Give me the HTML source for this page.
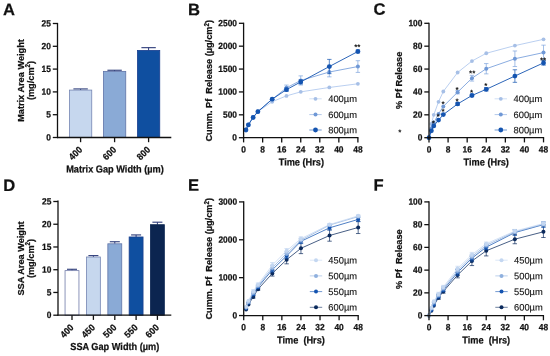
<!DOCTYPE html>
<html><head><meta charset="utf-8"><title>Figure</title>
<style>
html,body{margin:0;padding:0;background:#fff;}
svg{display:block;font-family:"Liberation Sans", Arial, sans-serif;}
text[font-weight=bold]{stroke:#111;stroke-width:0.22px;}
</style></head><body>
<svg width="550" height="356" viewBox="0 0 550 356">
<rect width="550" height="356" fill="#fff"/>
<text transform="translate(2.90,15.20) rotate(0.03) scale(1,1.0)" font-size="16.6" font-weight="bold" text-anchor="start" fill="#111" stroke="#111" stroke-width="0.3">A</text>
<text transform="translate(188.00,15.30) rotate(0.03) scale(1,1.0)" font-size="16.6" font-weight="bold" text-anchor="start" fill="#111" stroke="#111" stroke-width="0.3">B</text>
<text transform="translate(373.50,14.80) rotate(0.03) scale(1,1.0)" font-size="16.6" font-weight="bold" text-anchor="start" fill="#111" stroke="#111" stroke-width="0.3">C</text>
<text transform="translate(3.30,191.00) rotate(0.03) scale(1,1.0)" font-size="16.6" font-weight="bold" text-anchor="start" fill="#111" stroke="#111" stroke-width="0.3">D</text>
<text transform="translate(188.00,190.80) rotate(0.03) scale(1,1.0)" font-size="16.6" font-weight="bold" text-anchor="start" fill="#111" stroke="#111" stroke-width="0.3">E</text>
<text transform="translate(373.50,190.80) rotate(0.03) scale(1,1.0)" font-size="16.6" font-weight="bold" text-anchor="start" fill="#111" stroke="#111" stroke-width="0.3">F</text>
<line x1="80.60" y1="90.08" x2="80.60" y2="88.94" stroke="#2b3a78" stroke-width="1.0" />
<line x1="73.40" y1="88.94" x2="87.80" y2="88.94" stroke="#2b3a78" stroke-width="1.1" />
<rect x="69.45" y="90.08" width="22.30" height="47.42" fill="#c6d7ee" stroke="#7585b2" stroke-width="0.8"/>
<line x1="114.60" y1="71.38" x2="114.60" y2="70.24" stroke="#2b3a78" stroke-width="1.0" />
<line x1="107.40" y1="70.24" x2="121.80" y2="70.24" stroke="#2b3a78" stroke-width="1.1" />
<rect x="103.45" y="71.38" width="22.30" height="66.12" fill="#8aaad6" stroke="#6074a8" stroke-width="0.8"/>
<line x1="148.60" y1="50.40" x2="148.60" y2="47.67" stroke="#2b3a78" stroke-width="1.0" />
<line x1="141.40" y1="47.67" x2="155.80" y2="47.67" stroke="#2b3a78" stroke-width="1.1" />
<rect x="137.45" y="50.40" width="22.30" height="87.10" fill="#0f4fa0" stroke="#1a3f8f" stroke-width="0.8"/>
<line x1="57.50" y1="138.10" x2="57.50" y2="22.90" stroke="#111" stroke-width="1.3" />
<line x1="52.80" y1="137.50" x2="57.50" y2="137.50" stroke="#111" stroke-width="1.3" />
<text transform="translate(50.90,140.42) rotate(0.03) scale(1,1.09)" font-size="8.4" font-weight="bold" text-anchor="end" fill="#111" >0</text>
<line x1="52.80" y1="114.70" x2="57.50" y2="114.70" stroke="#111" stroke-width="1.3" />
<text transform="translate(50.90,117.62) rotate(0.03) scale(1,1.09)" font-size="8.4" font-weight="bold" text-anchor="end" fill="#111" >5</text>
<line x1="52.80" y1="91.90" x2="57.50" y2="91.90" stroke="#111" stroke-width="1.3" />
<text transform="translate(50.90,94.82) rotate(0.03) scale(1,1.09)" font-size="8.4" font-weight="bold" text-anchor="end" fill="#111" >10</text>
<line x1="52.80" y1="69.10" x2="57.50" y2="69.10" stroke="#111" stroke-width="1.3" />
<text transform="translate(50.90,72.02) rotate(0.03) scale(1,1.09)" font-size="8.4" font-weight="bold" text-anchor="end" fill="#111" >15</text>
<line x1="52.80" y1="46.30" x2="57.50" y2="46.30" stroke="#111" stroke-width="1.3" />
<text transform="translate(50.90,49.22) rotate(0.03) scale(1,1.09)" font-size="8.4" font-weight="bold" text-anchor="end" fill="#111" >20</text>
<line x1="52.80" y1="23.50" x2="57.50" y2="23.50" stroke="#111" stroke-width="1.3" />
<text transform="translate(50.90,26.42) rotate(0.03) scale(1,1.09)" font-size="8.4" font-weight="bold" text-anchor="end" fill="#111" >25</text>
<line x1="56.90" y1="137.50" x2="171.30" y2="137.50" stroke="#111" stroke-width="1.3" />
<line x1="80.60" y1="137.50" x2="80.60" y2="142.20" stroke="#111" stroke-width="1.3" />
<line x1="114.60" y1="137.50" x2="114.60" y2="142.20" stroke="#111" stroke-width="1.3" />
<line x1="148.60" y1="137.50" x2="148.60" y2="142.20" stroke="#111" stroke-width="1.3" />
<text transform="translate(82.90,150.40) rotate(-45) scale(1,1.06)" font-size="8.8" font-weight="bold" text-anchor="end" fill="#111">400</text>
<text transform="translate(116.90,150.40) rotate(-45) scale(1,1.06)" font-size="8.8" font-weight="bold" text-anchor="end" fill="#111">600</text>
<text transform="translate(150.90,150.40) rotate(-45) scale(1,1.06)" font-size="8.8" font-weight="bold" text-anchor="end" fill="#111">800</text>
<text transform="translate(115.00,172.60) rotate(0.03) scale(1,1.1)" font-size="9.2" font-weight="bold" text-anchor="middle" fill="#111" >Matrix Gap Width (µm)</text>
<text transform="translate(23.80,80.50) rotate(-90) scale(1,1.08)" font-size="9.2" font-weight="bold" text-anchor="middle" fill="#111">Matrix Area Weight</text>
<text transform="translate(33.50,80.50) rotate(-90) scale(1,1.08)" font-size="9.2" font-weight="bold" text-anchor="middle" fill="#111">(mg/cm<tspan dy="-3.4" font-size="6.3">2</tspan><tspan dy="3.4">)</tspan></text>
<line x1="72.00" y1="270.63" x2="72.00" y2="269.27" stroke="#2b3a78" stroke-width="1.0" />
<line x1="67.00" y1="269.27" x2="77.00" y2="269.27" stroke="#2b3a78" stroke-width="1.1" />
<rect x="65.05" y="270.63" width="13.90" height="44.57" fill="#ffffff" stroke="#6f7aa8" stroke-width="0.8"/>
<line x1="93.40" y1="256.99" x2="93.40" y2="255.62" stroke="#2b3a78" stroke-width="1.0" />
<line x1="88.40" y1="255.62" x2="98.40" y2="255.62" stroke="#2b3a78" stroke-width="1.1" />
<rect x="86.45" y="256.99" width="13.90" height="58.21" fill="#c6d7ee" stroke="#7585b2" stroke-width="0.8"/>
<line x1="114.80" y1="243.80" x2="114.80" y2="241.75" stroke="#2b3a78" stroke-width="1.0" />
<line x1="109.80" y1="241.75" x2="119.80" y2="241.75" stroke="#2b3a78" stroke-width="1.1" />
<rect x="107.85" y="243.80" width="13.90" height="71.40" fill="#8aaad6" stroke="#6074a8" stroke-width="0.8"/>
<line x1="136.10" y1="236.97" x2="136.10" y2="234.93" stroke="#2b3a78" stroke-width="1.0" />
<line x1="131.10" y1="234.93" x2="141.10" y2="234.93" stroke="#2b3a78" stroke-width="1.1" />
<rect x="129.15" y="236.97" width="13.90" height="78.23" fill="#0f4fa0" stroke="#1a3f8f" stroke-width="0.8"/>
<line x1="157.40" y1="224.69" x2="157.40" y2="222.19" stroke="#2b3a78" stroke-width="1.0" />
<line x1="152.40" y1="222.19" x2="162.40" y2="222.19" stroke="#2b3a78" stroke-width="1.1" />
<rect x="150.45" y="224.69" width="13.90" height="90.51" fill="#0b2550" stroke="#0b2550" stroke-width="0.8"/>
<line x1="58.00" y1="315.80" x2="58.00" y2="200.60" stroke="#111" stroke-width="1.3" />
<line x1="53.30" y1="315.20" x2="58.00" y2="315.20" stroke="#111" stroke-width="1.3" />
<text transform="translate(51.40,318.12) rotate(0.03) scale(1,1.09)" font-size="8.4" font-weight="bold" text-anchor="end" fill="#111" >0</text>
<line x1="53.30" y1="292.46" x2="58.00" y2="292.46" stroke="#111" stroke-width="1.3" />
<text transform="translate(51.40,295.38) rotate(0.03) scale(1,1.09)" font-size="8.4" font-weight="bold" text-anchor="end" fill="#111" >5</text>
<line x1="53.30" y1="269.72" x2="58.00" y2="269.72" stroke="#111" stroke-width="1.3" />
<text transform="translate(51.40,272.64) rotate(0.03) scale(1,1.09)" font-size="8.4" font-weight="bold" text-anchor="end" fill="#111" >10</text>
<line x1="53.30" y1="246.98" x2="58.00" y2="246.98" stroke="#111" stroke-width="1.3" />
<text transform="translate(51.40,249.90) rotate(0.03) scale(1,1.09)" font-size="8.4" font-weight="bold" text-anchor="end" fill="#111" >15</text>
<line x1="53.30" y1="224.24" x2="58.00" y2="224.24" stroke="#111" stroke-width="1.3" />
<text transform="translate(51.40,227.16) rotate(0.03) scale(1,1.09)" font-size="8.4" font-weight="bold" text-anchor="end" fill="#111" >20</text>
<line x1="53.30" y1="201.50" x2="58.00" y2="201.50" stroke="#111" stroke-width="1.3" />
<text transform="translate(51.40,204.42) rotate(0.03) scale(1,1.09)" font-size="8.4" font-weight="bold" text-anchor="end" fill="#111" >25</text>
<line x1="57.40" y1="315.20" x2="171.30" y2="315.20" stroke="#111" stroke-width="1.3" />
<line x1="72.00" y1="315.20" x2="72.00" y2="319.90" stroke="#111" stroke-width="1.3" />
<line x1="93.40" y1="315.20" x2="93.40" y2="319.90" stroke="#111" stroke-width="1.3" />
<line x1="114.80" y1="315.20" x2="114.80" y2="319.90" stroke="#111" stroke-width="1.3" />
<line x1="136.10" y1="315.20" x2="136.10" y2="319.90" stroke="#111" stroke-width="1.3" />
<line x1="157.40" y1="315.20" x2="157.40" y2="319.90" stroke="#111" stroke-width="1.3" />
<text transform="translate(74.30,328.10) rotate(-45) scale(1,1.06)" font-size="8.8" font-weight="bold" text-anchor="end" fill="#111">400</text>
<text transform="translate(95.70,328.10) rotate(-45) scale(1,1.06)" font-size="8.8" font-weight="bold" text-anchor="end" fill="#111">450</text>
<text transform="translate(117.10,328.10) rotate(-45) scale(1,1.06)" font-size="8.8" font-weight="bold" text-anchor="end" fill="#111">500</text>
<text transform="translate(138.40,328.10) rotate(-45) scale(1,1.06)" font-size="8.8" font-weight="bold" text-anchor="end" fill="#111">550</text>
<text transform="translate(159.70,328.10) rotate(-45) scale(1,1.06)" font-size="8.8" font-weight="bold" text-anchor="end" fill="#111">600</text>
<text transform="translate(114.80,350.10) rotate(0.03) scale(1,1.1)" font-size="9.2" font-weight="bold" text-anchor="middle" fill="#111" >SSA Gap Width (µm)</text>
<text transform="translate(23.80,258.50) rotate(-90) scale(1,1.08)" font-size="9.2" font-weight="bold" text-anchor="middle" fill="#111">SSA Area Weight</text>
<text transform="translate(33.50,258.50) rotate(-90) scale(1,1.08)" font-size="9.2" font-weight="bold" text-anchor="middle" fill="#111">(mg/cm<tspan dy="-3.4" font-size="6.3">2</tspan><tspan dy="3.4">)</tspan></text>
<path d="M245.98,129.46 L248.36,124.43 L253.12,117.11 L257.89,111.62 L272.17,101.73 L286.46,95.88 L300.74,91.85 L329.32,87.46 L357.89,83.79" fill="none" stroke="#b2caee" stroke-width="0.9"/>
<circle cx="245.98" cy="129.46" r="1.9" fill="#a6bfe6"/>
<circle cx="248.36" cy="124.43" r="1.9" fill="#a6bfe6"/>
<circle cx="253.12" cy="117.11" r="1.9" fill="#a6bfe6"/>
<circle cx="257.89" cy="111.62" r="1.9" fill="#a6bfe6"/>
<circle cx="272.17" cy="101.73" r="1.9" fill="#a6bfe6"/>
<circle cx="286.46" cy="95.88" r="1.9" fill="#a6bfe6"/>
<circle cx="300.74" cy="91.85" r="1.9" fill="#a6bfe6"/>
<circle cx="329.32" cy="87.46" r="1.9" fill="#a6bfe6"/>
<circle cx="357.89" cy="83.79" r="1.9" fill="#a6bfe6"/>
<path d="M245.98,129.69 L248.36,124.66 L253.12,117.34 L257.89,111.53 L272.17,99.35 L286.46,87.82 L300.74,80.45 L329.32,72.03 L357.89,66.54" fill="none" stroke="#7da3dc" stroke-width="0.9"/>
<line x1="286.46" y1="85.08" x2="286.46" y2="90.57" stroke="#7da3dc" stroke-width="0.7" />
<line x1="284.26" y1="85.08" x2="288.66" y2="85.08" stroke="#7da3dc" stroke-width="0.7" />
<line x1="284.26" y1="90.57" x2="288.66" y2="90.57" stroke="#7da3dc" stroke-width="0.7" />
<line x1="300.74" y1="75.88" x2="300.74" y2="85.03" stroke="#7da3dc" stroke-width="0.7" />
<line x1="298.54" y1="75.88" x2="302.94" y2="75.88" stroke="#7da3dc" stroke-width="0.7" />
<line x1="298.54" y1="85.03" x2="302.94" y2="85.03" stroke="#7da3dc" stroke-width="0.7" />
<line x1="329.32" y1="67.23" x2="329.32" y2="76.84" stroke="#7da3dc" stroke-width="0.7" />
<line x1="327.12" y1="67.23" x2="331.52" y2="67.23" stroke="#7da3dc" stroke-width="0.7" />
<line x1="327.12" y1="76.84" x2="331.52" y2="76.84" stroke="#7da3dc" stroke-width="0.7" />
<line x1="357.89" y1="60.69" x2="357.89" y2="72.40" stroke="#7da3dc" stroke-width="0.7" />
<line x1="355.69" y1="60.69" x2="360.09" y2="60.69" stroke="#7da3dc" stroke-width="0.7" />
<line x1="355.69" y1="72.40" x2="360.09" y2="72.40" stroke="#7da3dc" stroke-width="0.7" />
<circle cx="245.98" cy="129.69" r="2.0" fill="#6f98d6"/>
<circle cx="248.36" cy="124.66" r="2.0" fill="#6f98d6"/>
<circle cx="253.12" cy="117.34" r="2.0" fill="#6f98d6"/>
<circle cx="257.89" cy="111.53" r="2.0" fill="#6f98d6"/>
<circle cx="272.17" cy="99.35" r="2.0" fill="#6f98d6"/>
<circle cx="286.46" cy="87.82" r="2.0" fill="#6f98d6"/>
<circle cx="300.74" cy="80.45" r="2.0" fill="#6f98d6"/>
<circle cx="329.32" cy="72.03" r="2.0" fill="#6f98d6"/>
<circle cx="357.89" cy="66.54" r="2.0" fill="#6f98d6"/>
<path d="M245.98,130.01 L248.36,124.89 L253.12,117.52 L257.89,111.66 L272.17,99.17 L286.46,89.65 L300.74,81.92 L329.32,66.54 L357.89,51.49" fill="none" stroke="#1454b0" stroke-width="0.9"/>
<line x1="286.46" y1="88.05" x2="286.46" y2="91.25" stroke="#1454b0" stroke-width="0.7" />
<line x1="284.26" y1="88.05" x2="288.66" y2="88.05" stroke="#1454b0" stroke-width="0.7" />
<line x1="284.26" y1="91.25" x2="288.66" y2="91.25" stroke="#1454b0" stroke-width="0.7" />
<line x1="300.74" y1="79.86" x2="300.74" y2="83.98" stroke="#1454b0" stroke-width="0.7" />
<line x1="298.54" y1="79.86" x2="302.94" y2="79.86" stroke="#1454b0" stroke-width="0.7" />
<line x1="298.54" y1="83.98" x2="302.94" y2="83.98" stroke="#1454b0" stroke-width="0.7" />
<line x1="329.32" y1="59.40" x2="329.32" y2="73.68" stroke="#1454b0" stroke-width="0.7" />
<line x1="327.12" y1="59.40" x2="331.52" y2="59.40" stroke="#1454b0" stroke-width="0.7" />
<line x1="327.12" y1="73.68" x2="331.52" y2="73.68" stroke="#1454b0" stroke-width="0.7" />
<line x1="357.89" y1="50.12" x2="357.89" y2="52.86" stroke="#1454b0" stroke-width="0.7" />
<line x1="355.69" y1="50.12" x2="360.09" y2="50.12" stroke="#1454b0" stroke-width="0.7" />
<line x1="355.69" y1="52.86" x2="360.09" y2="52.86" stroke="#1454b0" stroke-width="0.7" />
<circle cx="245.98" cy="130.01" r="2.4" fill="#1454b0"/>
<circle cx="248.36" cy="124.89" r="2.4" fill="#1454b0"/>
<circle cx="253.12" cy="117.52" r="2.4" fill="#1454b0"/>
<circle cx="257.89" cy="111.66" r="2.4" fill="#1454b0"/>
<circle cx="272.17" cy="99.17" r="2.4" fill="#1454b0"/>
<circle cx="286.46" cy="89.65" r="2.4" fill="#1454b0"/>
<circle cx="300.74" cy="81.92" r="2.4" fill="#1454b0"/>
<circle cx="329.32" cy="66.54" r="2.4" fill="#1454b0"/>
<circle cx="357.89" cy="51.49" r="2.4" fill="#1454b0"/>
<line x1="243.60" y1="138.30" x2="243.60" y2="22.70" stroke="#111" stroke-width="1.3" />
<line x1="238.90" y1="137.70" x2="243.60" y2="137.70" stroke="#111" stroke-width="1.3" />
<text transform="translate(237.00,140.62) rotate(0.03) scale(1,1.09)" font-size="8.4" font-weight="bold" text-anchor="end" fill="#111" >0</text>
<line x1="238.90" y1="114.82" x2="243.60" y2="114.82" stroke="#111" stroke-width="1.3" />
<text transform="translate(237.00,117.74) rotate(0.03) scale(1,1.09)" font-size="8.4" font-weight="bold" text-anchor="end" fill="#111" >500</text>
<line x1="238.90" y1="91.94" x2="243.60" y2="91.94" stroke="#111" stroke-width="1.3" />
<text transform="translate(237.00,94.86) rotate(0.03) scale(1,1.09)" font-size="8.4" font-weight="bold" text-anchor="end" fill="#111" >1000</text>
<line x1="238.90" y1="69.06" x2="243.60" y2="69.06" stroke="#111" stroke-width="1.3" />
<text transform="translate(237.00,71.98) rotate(0.03) scale(1,1.09)" font-size="8.4" font-weight="bold" text-anchor="end" fill="#111" >1500</text>
<line x1="238.90" y1="46.18" x2="243.60" y2="46.18" stroke="#111" stroke-width="1.3" />
<text transform="translate(237.00,49.10) rotate(0.03) scale(1,1.09)" font-size="8.4" font-weight="bold" text-anchor="end" fill="#111" >2000</text>
<line x1="238.90" y1="23.30" x2="243.60" y2="23.30" stroke="#111" stroke-width="1.3" />
<text transform="translate(237.00,26.22) rotate(0.03) scale(1,1.09)" font-size="8.4" font-weight="bold" text-anchor="end" fill="#111" >2500</text>
<line x1="243.00" y1="137.70" x2="358.49" y2="137.70" stroke="#111" stroke-width="1.3" />
<line x1="243.60" y1="137.70" x2="243.60" y2="142.40" stroke="#111" stroke-width="1.3" />
<text transform="translate(243.60,152.40) rotate(0.03) scale(1,1.08)" font-size="8.4" font-weight="bold" text-anchor="middle" fill="#111" >0</text>
<line x1="262.65" y1="137.70" x2="262.65" y2="142.40" stroke="#111" stroke-width="1.3" />
<text transform="translate(262.65,152.40) rotate(0.03) scale(1,1.08)" font-size="8.4" font-weight="bold" text-anchor="middle" fill="#111" >8</text>
<line x1="281.70" y1="137.70" x2="281.70" y2="142.40" stroke="#111" stroke-width="1.3" />
<text transform="translate(281.70,152.40) rotate(0.03) scale(1,1.08)" font-size="8.4" font-weight="bold" text-anchor="middle" fill="#111" >16</text>
<line x1="300.74" y1="137.70" x2="300.74" y2="142.40" stroke="#111" stroke-width="1.3" />
<text transform="translate(300.74,152.40) rotate(0.03) scale(1,1.08)" font-size="8.4" font-weight="bold" text-anchor="middle" fill="#111" >24</text>
<line x1="319.79" y1="137.70" x2="319.79" y2="142.40" stroke="#111" stroke-width="1.3" />
<text transform="translate(319.79,152.40) rotate(0.03) scale(1,1.08)" font-size="8.4" font-weight="bold" text-anchor="middle" fill="#111" >32</text>
<line x1="338.84" y1="137.70" x2="338.84" y2="142.40" stroke="#111" stroke-width="1.3" />
<text transform="translate(338.84,152.40) rotate(0.03) scale(1,1.08)" font-size="8.4" font-weight="bold" text-anchor="middle" fill="#111" >40</text>
<line x1="357.89" y1="137.70" x2="357.89" y2="142.40" stroke="#111" stroke-width="1.3" />
<text transform="translate(357.89,152.40) rotate(0.03) scale(1,1.08)" font-size="8.4" font-weight="bold" text-anchor="middle" fill="#111" >48</text>
<text transform="translate(301.34,165.50) rotate(0.03) scale(1,1.1)" font-size="9.2" font-weight="bold" text-anchor="middle" fill="#111" >Time (Hrs)</text>
<text transform="translate(212.20,80.80) rotate(-90) scale(1,1.08)" font-size="9.2" font-weight="bold" text-anchor="middle" fill="#111">Cumm. Pf&#160; Release (µg/cm<tspan dy="-3.4" font-size="6.3">2</tspan><tspan dy="3.4">)</tspan></text>
<line x1="309.30" y1="98.80" x2="321.70" y2="98.80" stroke="#b2caee" stroke-width="0.6" />
<circle cx="315.50" cy="98.80" r="1.9" fill="#a6bfe6"/>
<text transform="translate(328.20,102.10) rotate(0.03) scale(1,1.0)" font-size="9.35" font-weight="normal" text-anchor="start" fill="#111" stroke="#111" stroke-width="0.12">400µm</text>
<line x1="309.30" y1="114.60" x2="321.70" y2="114.60" stroke="#7da3dc" stroke-width="0.6" />
<circle cx="315.50" cy="114.60" r="2.0" fill="#6f98d6"/>
<text transform="translate(328.20,117.90) rotate(0.03) scale(1,1.0)" font-size="9.35" font-weight="normal" text-anchor="start" fill="#111" stroke="#111" stroke-width="0.12">600µm</text>
<line x1="309.30" y1="130.00" x2="321.70" y2="130.00" stroke="#1454b0" stroke-width="0.6" />
<circle cx="315.50" cy="130.00" r="2.4" fill="#1454b0"/>
<text transform="translate(328.20,133.30) rotate(0.03) scale(1,1.0)" font-size="9.35" font-weight="normal" text-anchor="start" fill="#111" stroke="#111" stroke-width="0.12">800µm</text>
<text transform="translate(357.30,49.80) rotate(0.03) scale(1,1.0)" font-size="8" font-weight="bold" text-anchor="middle" fill="#111" style="stroke:none">**</text>
<path d="M429.00,137.70 L431.39,123.97 L433.77,114.82 L438.54,101.78 L443.32,91.48 L457.63,72.49 L471.95,61.05 L486.26,53.27 L514.90,45.61 L543.53,39.32" fill="none" stroke="#b2caee" stroke-width="0.9"/>
<circle cx="429.00" cy="137.70" r="1.9" fill="#a6bfe6"/>
<circle cx="431.39" cy="123.97" r="1.9" fill="#a6bfe6"/>
<circle cx="433.77" cy="114.82" r="1.9" fill="#a6bfe6"/>
<circle cx="438.54" cy="101.78" r="1.9" fill="#a6bfe6"/>
<circle cx="443.32" cy="91.48" r="1.9" fill="#a6bfe6"/>
<circle cx="457.63" cy="72.49" r="1.9" fill="#a6bfe6"/>
<circle cx="471.95" cy="61.05" r="1.9" fill="#a6bfe6"/>
<circle cx="486.26" cy="53.27" r="1.9" fill="#a6bfe6"/>
<circle cx="514.90" cy="45.61" r="1.9" fill="#a6bfe6"/>
<circle cx="543.53" cy="39.32" r="1.9" fill="#a6bfe6"/>
<path d="M429.00,137.70 L431.39,128.55 L433.77,122.83 L438.54,113.90 L443.32,106.47 L457.63,92.17 L471.95,78.21 L486.26,68.72 L514.90,58.76 L543.53,52.59" fill="none" stroke="#7da3dc" stroke-width="0.9"/>
<line x1="457.63" y1="90.45" x2="457.63" y2="93.88" stroke="#7da3dc" stroke-width="0.7" />
<line x1="455.43" y1="90.45" x2="459.83" y2="90.45" stroke="#7da3dc" stroke-width="0.7" />
<line x1="455.43" y1="93.88" x2="459.83" y2="93.88" stroke="#7da3dc" stroke-width="0.7" />
<line x1="471.95" y1="75.35" x2="471.95" y2="81.07" stroke="#7da3dc" stroke-width="0.7" />
<line x1="469.75" y1="75.35" x2="474.15" y2="75.35" stroke="#7da3dc" stroke-width="0.7" />
<line x1="469.75" y1="81.07" x2="474.15" y2="81.07" stroke="#7da3dc" stroke-width="0.7" />
<line x1="486.26" y1="63.57" x2="486.26" y2="73.86" stroke="#7da3dc" stroke-width="0.7" />
<line x1="484.06" y1="63.57" x2="488.46" y2="63.57" stroke="#7da3dc" stroke-width="0.7" />
<line x1="484.06" y1="73.86" x2="488.46" y2="73.86" stroke="#7da3dc" stroke-width="0.7" />
<line x1="514.90" y1="50.98" x2="514.90" y2="66.54" stroke="#7da3dc" stroke-width="0.7" />
<line x1="512.70" y1="50.98" x2="517.10" y2="50.98" stroke="#7da3dc" stroke-width="0.7" />
<line x1="512.70" y1="66.54" x2="517.10" y2="66.54" stroke="#7da3dc" stroke-width="0.7" />
<line x1="543.53" y1="45.15" x2="543.53" y2="60.02" stroke="#7da3dc" stroke-width="0.7" />
<line x1="541.33" y1="45.15" x2="545.73" y2="45.15" stroke="#7da3dc" stroke-width="0.7" />
<line x1="541.33" y1="60.02" x2="545.73" y2="60.02" stroke="#7da3dc" stroke-width="0.7" />
<circle cx="429.00" cy="137.70" r="2.0" fill="#6f98d6"/>
<circle cx="431.39" cy="128.55" r="2.0" fill="#6f98d6"/>
<circle cx="433.77" cy="122.83" r="2.0" fill="#6f98d6"/>
<circle cx="438.54" cy="113.90" r="2.0" fill="#6f98d6"/>
<circle cx="443.32" cy="106.47" r="2.0" fill="#6f98d6"/>
<circle cx="457.63" cy="92.17" r="2.0" fill="#6f98d6"/>
<circle cx="471.95" cy="78.21" r="2.0" fill="#6f98d6"/>
<circle cx="486.26" cy="68.72" r="2.0" fill="#6f98d6"/>
<circle cx="514.90" cy="58.76" r="2.0" fill="#6f98d6"/>
<circle cx="543.53" cy="52.59" r="2.0" fill="#6f98d6"/>
<path d="M429.00,137.70 L431.39,130.84 L433.77,125.92 L438.54,120.08 L443.32,114.59 L457.63,103.95 L471.95,95.49 L486.26,89.31 L514.90,76.04 L543.53,62.88" fill="none" stroke="#1454b0" stroke-width="0.9"/>
<line x1="457.63" y1="102.81" x2="457.63" y2="105.10" stroke="#1454b0" stroke-width="0.7" />
<line x1="455.43" y1="102.81" x2="459.83" y2="102.81" stroke="#1454b0" stroke-width="0.7" />
<line x1="455.43" y1="105.10" x2="459.83" y2="105.10" stroke="#1454b0" stroke-width="0.7" />
<line x1="471.95" y1="94.34" x2="471.95" y2="96.63" stroke="#1454b0" stroke-width="0.7" />
<line x1="469.75" y1="94.34" x2="474.15" y2="94.34" stroke="#1454b0" stroke-width="0.7" />
<line x1="469.75" y1="96.63" x2="474.15" y2="96.63" stroke="#1454b0" stroke-width="0.7" />
<line x1="486.26" y1="87.59" x2="486.26" y2="91.02" stroke="#1454b0" stroke-width="0.7" />
<line x1="484.06" y1="87.59" x2="488.46" y2="87.59" stroke="#1454b0" stroke-width="0.7" />
<line x1="484.06" y1="91.02" x2="488.46" y2="91.02" stroke="#1454b0" stroke-width="0.7" />
<line x1="514.90" y1="69.75" x2="514.90" y2="82.33" stroke="#1454b0" stroke-width="0.7" />
<line x1="512.70" y1="69.75" x2="517.10" y2="69.75" stroke="#1454b0" stroke-width="0.7" />
<line x1="512.70" y1="82.33" x2="517.10" y2="82.33" stroke="#1454b0" stroke-width="0.7" />
<line x1="543.53" y1="60.59" x2="543.53" y2="65.17" stroke="#1454b0" stroke-width="0.7" />
<line x1="541.33" y1="60.59" x2="545.73" y2="60.59" stroke="#1454b0" stroke-width="0.7" />
<line x1="541.33" y1="65.17" x2="545.73" y2="65.17" stroke="#1454b0" stroke-width="0.7" />
<circle cx="429.00" cy="137.70" r="2.4" fill="#1454b0"/>
<circle cx="431.39" cy="130.84" r="2.4" fill="#1454b0"/>
<circle cx="433.77" cy="125.92" r="2.4" fill="#1454b0"/>
<circle cx="438.54" cy="120.08" r="2.4" fill="#1454b0"/>
<circle cx="443.32" cy="114.59" r="2.4" fill="#1454b0"/>
<circle cx="457.63" cy="103.95" r="2.4" fill="#1454b0"/>
<circle cx="471.95" cy="95.49" r="2.4" fill="#1454b0"/>
<circle cx="486.26" cy="89.31" r="2.4" fill="#1454b0"/>
<circle cx="514.90" cy="76.04" r="2.4" fill="#1454b0"/>
<circle cx="543.53" cy="62.88" r="2.4" fill="#1454b0"/>
<line x1="429.00" y1="138.30" x2="429.00" y2="22.70" stroke="#111" stroke-width="1.3" />
<line x1="424.30" y1="137.70" x2="429.00" y2="137.70" stroke="#111" stroke-width="1.3" />
<text transform="translate(422.40,140.62) rotate(0.03) scale(1,1.09)" font-size="8.4" font-weight="bold" text-anchor="end" fill="#111" >0</text>
<line x1="424.30" y1="114.82" x2="429.00" y2="114.82" stroke="#111" stroke-width="1.3" />
<text transform="translate(422.40,117.74) rotate(0.03) scale(1,1.09)" font-size="8.4" font-weight="bold" text-anchor="end" fill="#111" >20</text>
<line x1="424.30" y1="91.94" x2="429.00" y2="91.94" stroke="#111" stroke-width="1.3" />
<text transform="translate(422.40,94.86) rotate(0.03) scale(1,1.09)" font-size="8.4" font-weight="bold" text-anchor="end" fill="#111" >40</text>
<line x1="424.30" y1="69.06" x2="429.00" y2="69.06" stroke="#111" stroke-width="1.3" />
<text transform="translate(422.40,71.98) rotate(0.03) scale(1,1.09)" font-size="8.4" font-weight="bold" text-anchor="end" fill="#111" >60</text>
<line x1="424.30" y1="46.18" x2="429.00" y2="46.18" stroke="#111" stroke-width="1.3" />
<text transform="translate(422.40,49.10) rotate(0.03) scale(1,1.09)" font-size="8.4" font-weight="bold" text-anchor="end" fill="#111" >80</text>
<line x1="424.30" y1="23.30" x2="429.00" y2="23.30" stroke="#111" stroke-width="1.3" />
<text transform="translate(422.40,26.22) rotate(0.03) scale(1,1.09)" font-size="8.4" font-weight="bold" text-anchor="end" fill="#111" >100</text>
<line x1="428.40" y1="137.70" x2="544.13" y2="137.70" stroke="#111" stroke-width="1.3" />
<line x1="429.00" y1="137.70" x2="429.00" y2="142.40" stroke="#111" stroke-width="1.3" />
<text transform="translate(429.00,152.40) rotate(0.03) scale(1,1.08)" font-size="8.4" font-weight="bold" text-anchor="middle" fill="#111" >0</text>
<line x1="448.09" y1="137.70" x2="448.09" y2="142.40" stroke="#111" stroke-width="1.3" />
<text transform="translate(448.09,152.40) rotate(0.03) scale(1,1.08)" font-size="8.4" font-weight="bold" text-anchor="middle" fill="#111" >8</text>
<line x1="467.18" y1="137.70" x2="467.18" y2="142.40" stroke="#111" stroke-width="1.3" />
<text transform="translate(467.18,152.40) rotate(0.03) scale(1,1.08)" font-size="8.4" font-weight="bold" text-anchor="middle" fill="#111" >16</text>
<line x1="486.26" y1="137.70" x2="486.26" y2="142.40" stroke="#111" stroke-width="1.3" />
<text transform="translate(486.26,152.40) rotate(0.03) scale(1,1.08)" font-size="8.4" font-weight="bold" text-anchor="middle" fill="#111" >24</text>
<line x1="505.35" y1="137.70" x2="505.35" y2="142.40" stroke="#111" stroke-width="1.3" />
<text transform="translate(505.35,152.40) rotate(0.03) scale(1,1.08)" font-size="8.4" font-weight="bold" text-anchor="middle" fill="#111" >32</text>
<line x1="524.44" y1="137.70" x2="524.44" y2="142.40" stroke="#111" stroke-width="1.3" />
<text transform="translate(524.44,152.40) rotate(0.03) scale(1,1.08)" font-size="8.4" font-weight="bold" text-anchor="middle" fill="#111" >40</text>
<line x1="543.53" y1="137.70" x2="543.53" y2="142.40" stroke="#111" stroke-width="1.3" />
<text transform="translate(543.53,152.40) rotate(0.03) scale(1,1.08)" font-size="8.4" font-weight="bold" text-anchor="middle" fill="#111" >48</text>
<text transform="translate(486.26,165.50) rotate(0.03) scale(1,1.1)" font-size="9.2" font-weight="bold" text-anchor="middle" fill="#111" >Time (Hrs)</text>
<text transform="translate(402.30,80.30) rotate(-90) scale(1,1.08)" font-size="9.2" font-weight="bold" text-anchor="middle" fill="#111">% Pf Release</text>
<line x1="494.60" y1="98.80" x2="507.00" y2="98.80" stroke="#b2caee" stroke-width="0.6" />
<circle cx="500.80" cy="98.80" r="1.9" fill="#a6bfe6"/>
<text transform="translate(513.50,102.10) rotate(0.03) scale(1,1.0)" font-size="9.35" font-weight="normal" text-anchor="start" fill="#111" stroke="#111" stroke-width="0.12">400µm</text>
<line x1="494.60" y1="114.60" x2="507.00" y2="114.60" stroke="#7da3dc" stroke-width="0.6" />
<circle cx="500.80" cy="114.60" r="2.0" fill="#6f98d6"/>
<text transform="translate(513.50,117.90) rotate(0.03) scale(1,1.0)" font-size="9.35" font-weight="normal" text-anchor="start" fill="#111" stroke="#111" stroke-width="0.12">600µm</text>
<line x1="494.60" y1="130.00" x2="507.00" y2="130.00" stroke="#1454b0" stroke-width="0.6" />
<circle cx="500.80" cy="130.00" r="2.4" fill="#1454b0"/>
<text transform="translate(513.50,133.30) rotate(0.03) scale(1,1.0)" font-size="9.35" font-weight="normal" text-anchor="start" fill="#111" stroke="#111" stroke-width="0.12">800µm</text>
<text transform="translate(472.20,76.10) rotate(0.03) scale(1,1.0)" font-size="8" font-weight="bold" text-anchor="middle" fill="#111" style="stroke:none">**</text>
<text transform="translate(457.10,92.50) rotate(0.03) scale(1,1.0)" font-size="8" font-weight="bold" text-anchor="middle" fill="#111" style="stroke:none">*</text>
<text transform="translate(443.00,106.80) rotate(0.03) scale(1,1.0)" font-size="8" font-weight="bold" text-anchor="middle" fill="#111" style="stroke:none">*</text>
<text transform="translate(443.00,114.30) rotate(0.03) scale(1,1.0)" font-size="8" font-weight="bold" text-anchor="middle" fill="#111" style="stroke:none">*</text>
<text transform="translate(438.00,119.20) rotate(0.03) scale(1,1.0)" font-size="8" font-weight="bold" text-anchor="middle" fill="#111" style="stroke:none">*</text>
<text transform="translate(433.30,125.90) rotate(0.03) scale(1,1.0)" font-size="8" font-weight="bold" text-anchor="middle" fill="#111" style="stroke:none">*</text>
<text transform="translate(457.10,104.10) rotate(0.03) scale(1,1.0)" font-size="8" font-weight="bold" text-anchor="middle" fill="#111" style="stroke:none">*</text>
<text transform="translate(471.50,95.20) rotate(0.03) scale(1,1.0)" font-size="8" font-weight="bold" text-anchor="middle" fill="#111" style="stroke:none">*</text>
<text transform="translate(485.70,88.40) rotate(0.03) scale(1,1.0)" font-size="8" font-weight="bold" text-anchor="middle" fill="#111" style="stroke:none">*</text>
<text transform="translate(543.00,63.00) rotate(0.03) scale(1,1.0)" font-size="8" font-weight="bold" text-anchor="middle" fill="#111" style="stroke:none">**</text>
<text transform="translate(399.90,134.90) rotate(0.03) scale(1,1.0)" font-size="8" font-weight="bold" text-anchor="middle" fill="#111" style="stroke:none">*</text>
<path d="M246.08,309.45 L248.47,304.38 L253.24,296.99 L258.01,289.22 L272.32,273.43 L286.63,259.68 L300.94,248.31 L329.56,235.51 L358.18,227.48" fill="none" stroke="#0b2a5c" stroke-width="0.75"/>
<line x1="253.24" y1="295.85" x2="253.24" y2="298.13" stroke="#0b2a5c" stroke-width="0.7" />
<line x1="251.04" y1="295.85" x2="255.44" y2="295.85" stroke="#0b2a5c" stroke-width="0.7" />
<line x1="251.04" y1="298.13" x2="255.44" y2="298.13" stroke="#0b2a5c" stroke-width="0.7" />
<line x1="258.01" y1="288.09" x2="258.01" y2="290.36" stroke="#0b2a5c" stroke-width="0.7" />
<line x1="255.81" y1="288.09" x2="260.21" y2="288.09" stroke="#0b2a5c" stroke-width="0.7" />
<line x1="255.81" y1="290.36" x2="260.21" y2="290.36" stroke="#0b2a5c" stroke-width="0.7" />
<line x1="272.32" y1="270.78" x2="272.32" y2="276.08" stroke="#0b2a5c" stroke-width="0.7" />
<line x1="270.12" y1="270.78" x2="274.52" y2="270.78" stroke="#0b2a5c" stroke-width="0.7" />
<line x1="270.12" y1="276.08" x2="274.52" y2="276.08" stroke="#0b2a5c" stroke-width="0.7" />
<line x1="286.63" y1="255.51" x2="286.63" y2="263.84" stroke="#0b2a5c" stroke-width="0.7" />
<line x1="284.43" y1="255.51" x2="288.83" y2="255.51" stroke="#0b2a5c" stroke-width="0.7" />
<line x1="284.43" y1="263.84" x2="288.83" y2="263.84" stroke="#0b2a5c" stroke-width="0.7" />
<line x1="300.94" y1="243.01" x2="300.94" y2="253.62" stroke="#0b2a5c" stroke-width="0.7" />
<line x1="298.74" y1="243.01" x2="303.14" y2="243.01" stroke="#0b2a5c" stroke-width="0.7" />
<line x1="298.74" y1="253.62" x2="303.14" y2="253.62" stroke="#0b2a5c" stroke-width="0.7" />
<line x1="329.56" y1="229.83" x2="329.56" y2="241.19" stroke="#0b2a5c" stroke-width="0.7" />
<line x1="327.36" y1="229.83" x2="331.76" y2="229.83" stroke="#0b2a5c" stroke-width="0.7" />
<line x1="327.36" y1="241.19" x2="331.76" y2="241.19" stroke="#0b2a5c" stroke-width="0.7" />
<line x1="358.18" y1="221.42" x2="358.18" y2="233.54" stroke="#0b2a5c" stroke-width="0.7" />
<line x1="355.98" y1="221.42" x2="360.38" y2="221.42" stroke="#0b2a5c" stroke-width="0.7" />
<line x1="355.98" y1="233.54" x2="360.38" y2="233.54" stroke="#0b2a5c" stroke-width="0.7" />
<circle cx="246.08" cy="309.45" r="2.0" fill="#0b2a5c"/>
<circle cx="248.47" cy="304.38" r="2.0" fill="#0b2a5c"/>
<circle cx="253.24" cy="296.99" r="2.0" fill="#0b2a5c"/>
<circle cx="258.01" cy="289.22" r="2.0" fill="#0b2a5c"/>
<circle cx="272.32" cy="273.43" r="2.0" fill="#0b2a5c"/>
<circle cx="286.63" cy="259.68" r="2.0" fill="#0b2a5c"/>
<circle cx="300.94" cy="248.31" r="2.0" fill="#0b2a5c"/>
<circle cx="329.56" cy="235.51" r="2.0" fill="#0b2a5c"/>
<circle cx="358.18" cy="227.48" r="2.0" fill="#0b2a5c"/>
<path d="M246.08,308.35 L248.47,302.86 L253.24,294.34 L258.01,287.14 L272.32,269.72 L286.63,255.89 L300.94,241.31 L329.56,227.82 L358.18,219.41" fill="none" stroke="#1454b0" stroke-width="0.75"/>
<line x1="253.24" y1="293.20" x2="253.24" y2="295.47" stroke="#1454b0" stroke-width="0.7" />
<line x1="251.04" y1="293.20" x2="255.44" y2="293.20" stroke="#1454b0" stroke-width="0.7" />
<line x1="251.04" y1="295.47" x2="255.44" y2="295.47" stroke="#1454b0" stroke-width="0.7" />
<line x1="258.01" y1="286.00" x2="258.01" y2="288.28" stroke="#1454b0" stroke-width="0.7" />
<line x1="255.81" y1="286.00" x2="260.21" y2="286.00" stroke="#1454b0" stroke-width="0.7" />
<line x1="255.81" y1="288.28" x2="260.21" y2="288.28" stroke="#1454b0" stroke-width="0.7" />
<line x1="272.32" y1="267.44" x2="272.32" y2="271.99" stroke="#1454b0" stroke-width="0.7" />
<line x1="270.12" y1="267.44" x2="274.52" y2="267.44" stroke="#1454b0" stroke-width="0.7" />
<line x1="270.12" y1="271.99" x2="274.52" y2="271.99" stroke="#1454b0" stroke-width="0.7" />
<line x1="286.63" y1="253.62" x2="286.63" y2="258.16" stroke="#1454b0" stroke-width="0.7" />
<line x1="284.43" y1="253.62" x2="288.83" y2="253.62" stroke="#1454b0" stroke-width="0.7" />
<line x1="284.43" y1="258.16" x2="288.83" y2="258.16" stroke="#1454b0" stroke-width="0.7" />
<line x1="300.94" y1="239.03" x2="300.94" y2="243.58" stroke="#1454b0" stroke-width="0.7" />
<line x1="298.74" y1="239.03" x2="303.14" y2="239.03" stroke="#1454b0" stroke-width="0.7" />
<line x1="298.74" y1="243.58" x2="303.14" y2="243.58" stroke="#1454b0" stroke-width="0.7" />
<line x1="329.56" y1="225.55" x2="329.56" y2="230.09" stroke="#1454b0" stroke-width="0.7" />
<line x1="327.36" y1="225.55" x2="331.76" y2="225.55" stroke="#1454b0" stroke-width="0.7" />
<line x1="327.36" y1="230.09" x2="331.76" y2="230.09" stroke="#1454b0" stroke-width="0.7" />
<line x1="358.18" y1="217.14" x2="358.18" y2="221.68" stroke="#1454b0" stroke-width="0.7" />
<line x1="355.98" y1="217.14" x2="360.38" y2="217.14" stroke="#1454b0" stroke-width="0.7" />
<line x1="355.98" y1="221.68" x2="360.38" y2="221.68" stroke="#1454b0" stroke-width="0.7" />
<circle cx="246.08" cy="308.35" r="2.0" fill="#1454b0"/>
<circle cx="248.47" cy="302.86" r="2.0" fill="#1454b0"/>
<circle cx="253.24" cy="294.34" r="2.0" fill="#1454b0"/>
<circle cx="258.01" cy="287.14" r="2.0" fill="#1454b0"/>
<circle cx="272.32" cy="269.72" r="2.0" fill="#1454b0"/>
<circle cx="286.63" cy="255.89" r="2.0" fill="#1454b0"/>
<circle cx="300.94" cy="241.31" r="2.0" fill="#1454b0"/>
<circle cx="329.56" cy="227.82" r="2.0" fill="#1454b0"/>
<circle cx="358.18" cy="219.41" r="2.0" fill="#1454b0"/>
<path d="M246.08,307.60 L248.47,301.91 L253.24,292.82 L258.01,285.81 L272.32,267.63 L286.63,253.43 L300.94,240.17 L329.56,225.09 L358.18,216.61" fill="none" stroke="#8fb0de" stroke-width="0.75"/>
<line x1="253.24" y1="291.69" x2="253.24" y2="293.96" stroke="#8fb0de" stroke-width="0.7" />
<line x1="251.04" y1="291.69" x2="255.44" y2="291.69" stroke="#8fb0de" stroke-width="0.7" />
<line x1="251.04" y1="293.96" x2="255.44" y2="293.96" stroke="#8fb0de" stroke-width="0.7" />
<line x1="258.01" y1="284.68" x2="258.01" y2="286.95" stroke="#8fb0de" stroke-width="0.7" />
<line x1="255.81" y1="284.68" x2="260.21" y2="284.68" stroke="#8fb0de" stroke-width="0.7" />
<line x1="255.81" y1="286.95" x2="260.21" y2="286.95" stroke="#8fb0de" stroke-width="0.7" />
<line x1="272.32" y1="265.36" x2="272.32" y2="269.90" stroke="#8fb0de" stroke-width="0.7" />
<line x1="270.12" y1="265.36" x2="274.52" y2="265.36" stroke="#8fb0de" stroke-width="0.7" />
<line x1="270.12" y1="269.90" x2="274.52" y2="269.90" stroke="#8fb0de" stroke-width="0.7" />
<line x1="286.63" y1="251.53" x2="286.63" y2="255.32" stroke="#8fb0de" stroke-width="0.7" />
<line x1="284.43" y1="251.53" x2="288.83" y2="251.53" stroke="#8fb0de" stroke-width="0.7" />
<line x1="284.43" y1="255.32" x2="288.83" y2="255.32" stroke="#8fb0de" stroke-width="0.7" />
<line x1="300.94" y1="238.27" x2="300.94" y2="242.06" stroke="#8fb0de" stroke-width="0.7" />
<line x1="298.74" y1="238.27" x2="303.14" y2="238.27" stroke="#8fb0de" stroke-width="0.7" />
<line x1="298.74" y1="242.06" x2="303.14" y2="242.06" stroke="#8fb0de" stroke-width="0.7" />
<line x1="329.56" y1="223.96" x2="329.56" y2="226.23" stroke="#8fb0de" stroke-width="0.7" />
<line x1="327.36" y1="223.96" x2="331.76" y2="223.96" stroke="#8fb0de" stroke-width="0.7" />
<line x1="327.36" y1="226.23" x2="331.76" y2="226.23" stroke="#8fb0de" stroke-width="0.7" />
<line x1="358.18" y1="215.47" x2="358.18" y2="217.74" stroke="#8fb0de" stroke-width="0.7" />
<line x1="355.98" y1="215.47" x2="360.38" y2="215.47" stroke="#8fb0de" stroke-width="0.7" />
<line x1="355.98" y1="217.74" x2="360.38" y2="217.74" stroke="#8fb0de" stroke-width="0.7" />
<circle cx="246.08" cy="307.60" r="2.0" fill="#8fb0de"/>
<circle cx="248.47" cy="301.91" r="2.0" fill="#8fb0de"/>
<circle cx="253.24" cy="292.82" r="2.0" fill="#8fb0de"/>
<circle cx="258.01" cy="285.81" r="2.0" fill="#8fb0de"/>
<circle cx="272.32" cy="267.63" r="2.0" fill="#8fb0de"/>
<circle cx="286.63" cy="253.43" r="2.0" fill="#8fb0de"/>
<circle cx="300.94" cy="240.17" r="2.0" fill="#8fb0de"/>
<circle cx="329.56" cy="225.09" r="2.0" fill="#8fb0de"/>
<circle cx="358.18" cy="216.61" r="2.0" fill="#8fb0de"/>
<path d="M246.08,306.84 L248.47,300.78 L253.24,291.31 L258.01,284.49 L272.32,265.17 L286.63,250.78 L300.94,238.65 L329.56,224.56 L358.18,215.85" fill="none" stroke="#c4d7f1" stroke-width="0.75"/>
<line x1="253.24" y1="289.79" x2="253.24" y2="292.82" stroke="#c4d7f1" stroke-width="0.7" />
<line x1="251.04" y1="289.79" x2="255.44" y2="289.79" stroke="#c4d7f1" stroke-width="0.7" />
<line x1="251.04" y1="292.82" x2="255.44" y2="292.82" stroke="#c4d7f1" stroke-width="0.7" />
<line x1="258.01" y1="282.97" x2="258.01" y2="286.00" stroke="#c4d7f1" stroke-width="0.7" />
<line x1="255.81" y1="282.97" x2="260.21" y2="282.97" stroke="#c4d7f1" stroke-width="0.7" />
<line x1="255.81" y1="286.00" x2="260.21" y2="286.00" stroke="#c4d7f1" stroke-width="0.7" />
<line x1="272.32" y1="262.52" x2="272.32" y2="267.82" stroke="#c4d7f1" stroke-width="0.7" />
<line x1="270.12" y1="262.52" x2="274.52" y2="262.52" stroke="#c4d7f1" stroke-width="0.7" />
<line x1="270.12" y1="267.82" x2="274.52" y2="267.82" stroke="#c4d7f1" stroke-width="0.7" />
<line x1="286.63" y1="248.50" x2="286.63" y2="253.05" stroke="#c4d7f1" stroke-width="0.7" />
<line x1="284.43" y1="248.50" x2="288.83" y2="248.50" stroke="#c4d7f1" stroke-width="0.7" />
<line x1="284.43" y1="253.05" x2="288.83" y2="253.05" stroke="#c4d7f1" stroke-width="0.7" />
<line x1="300.94" y1="236.76" x2="300.94" y2="240.55" stroke="#c4d7f1" stroke-width="0.7" />
<line x1="298.74" y1="236.76" x2="303.14" y2="236.76" stroke="#c4d7f1" stroke-width="0.7" />
<line x1="298.74" y1="240.55" x2="303.14" y2="240.55" stroke="#c4d7f1" stroke-width="0.7" />
<line x1="329.56" y1="223.62" x2="329.56" y2="225.51" stroke="#c4d7f1" stroke-width="0.7" />
<line x1="327.36" y1="223.62" x2="331.76" y2="223.62" stroke="#c4d7f1" stroke-width="0.7" />
<line x1="327.36" y1="225.51" x2="331.76" y2="225.51" stroke="#c4d7f1" stroke-width="0.7" />
<line x1="358.18" y1="214.90" x2="358.18" y2="216.80" stroke="#c4d7f1" stroke-width="0.7" />
<line x1="355.98" y1="214.90" x2="360.38" y2="214.90" stroke="#c4d7f1" stroke-width="0.7" />
<line x1="355.98" y1="216.80" x2="360.38" y2="216.80" stroke="#c4d7f1" stroke-width="0.7" />
<circle cx="246.08" cy="306.84" r="2.0" fill="#c4d7f1"/>
<circle cx="248.47" cy="300.78" r="2.0" fill="#c4d7f1"/>
<circle cx="253.24" cy="291.31" r="2.0" fill="#c4d7f1"/>
<circle cx="258.01" cy="284.49" r="2.0" fill="#c4d7f1"/>
<circle cx="272.32" cy="265.17" r="2.0" fill="#c4d7f1"/>
<circle cx="286.63" cy="250.78" r="2.0" fill="#c4d7f1"/>
<circle cx="300.94" cy="238.65" r="2.0" fill="#c4d7f1"/>
<circle cx="329.56" cy="224.56" r="2.0" fill="#c4d7f1"/>
<circle cx="358.18" cy="215.85" r="2.0" fill="#c4d7f1"/>
<line x1="243.70" y1="316.15" x2="243.70" y2="201.31" stroke="#111" stroke-width="1.3" />
<line x1="239.00" y1="315.55" x2="243.70" y2="315.55" stroke="#111" stroke-width="1.3" />
<text transform="translate(237.10,318.47) rotate(0.03) scale(1,1.09)" font-size="8.4" font-weight="bold" text-anchor="end" fill="#111" >0</text>
<line x1="239.00" y1="277.67" x2="243.70" y2="277.67" stroke="#111" stroke-width="1.3" />
<text transform="translate(237.10,280.59) rotate(0.03) scale(1,1.09)" font-size="8.4" font-weight="bold" text-anchor="end" fill="#111" >1000</text>
<line x1="239.00" y1="239.79" x2="243.70" y2="239.79" stroke="#111" stroke-width="1.3" />
<text transform="translate(237.10,242.71) rotate(0.03) scale(1,1.09)" font-size="8.4" font-weight="bold" text-anchor="end" fill="#111" >2000</text>
<line x1="239.00" y1="201.91" x2="243.70" y2="201.91" stroke="#111" stroke-width="1.3" />
<text transform="translate(237.10,204.83) rotate(0.03) scale(1,1.09)" font-size="8.4" font-weight="bold" text-anchor="end" fill="#111" >3000</text>
<line x1="243.10" y1="315.55" x2="358.78" y2="315.55" stroke="#111" stroke-width="1.3" />
<line x1="243.70" y1="315.55" x2="243.70" y2="320.25" stroke="#111" stroke-width="1.3" />
<text transform="translate(243.70,330.25) rotate(0.03) scale(1,1.08)" font-size="8.4" font-weight="bold" text-anchor="middle" fill="#111" >0</text>
<line x1="262.78" y1="315.55" x2="262.78" y2="320.25" stroke="#111" stroke-width="1.3" />
<text transform="translate(262.78,330.25) rotate(0.03) scale(1,1.08)" font-size="8.4" font-weight="bold" text-anchor="middle" fill="#111" >8</text>
<line x1="281.86" y1="315.55" x2="281.86" y2="320.25" stroke="#111" stroke-width="1.3" />
<text transform="translate(281.86,330.25) rotate(0.03) scale(1,1.08)" font-size="8.4" font-weight="bold" text-anchor="middle" fill="#111" >16</text>
<line x1="300.94" y1="315.55" x2="300.94" y2="320.25" stroke="#111" stroke-width="1.3" />
<text transform="translate(300.94,330.25) rotate(0.03) scale(1,1.08)" font-size="8.4" font-weight="bold" text-anchor="middle" fill="#111" >24</text>
<line x1="320.02" y1="315.55" x2="320.02" y2="320.25" stroke="#111" stroke-width="1.3" />
<text transform="translate(320.02,330.25) rotate(0.03) scale(1,1.08)" font-size="8.4" font-weight="bold" text-anchor="middle" fill="#111" >32</text>
<line x1="339.10" y1="315.55" x2="339.10" y2="320.25" stroke="#111" stroke-width="1.3" />
<text transform="translate(339.10,330.25) rotate(0.03) scale(1,1.08)" font-size="8.4" font-weight="bold" text-anchor="middle" fill="#111" >40</text>
<line x1="358.18" y1="315.55" x2="358.18" y2="320.25" stroke="#111" stroke-width="1.3" />
<text transform="translate(358.18,330.25) rotate(0.03) scale(1,1.08)" font-size="8.4" font-weight="bold" text-anchor="middle" fill="#111" >48</text>
<text transform="translate(300.94,343.50) rotate(0.03) scale(1,1.1)" font-size="9.2" font-weight="bold" text-anchor="middle" fill="#111" >Time&#160; (Hrs)</text>
<text transform="translate(212.20,258.80) rotate(-90) scale(1,1.08)" font-size="9.2" font-weight="bold" text-anchor="middle" fill="#111">Cumm. Pf&#160; Release (µg/cm<tspan dy="-3.4" font-size="6.3">2</tspan><tspan dy="3.4">)</tspan></text>
<line x1="309.80" y1="260.20" x2="322.20" y2="260.20" stroke="#c4d7f1" stroke-width="0.6" />
<circle cx="316.00" cy="260.20" r="2.0" fill="#c4d7f1"/>
<text transform="translate(328.30,263.50) rotate(0.03) scale(1,1.0)" font-size="9.35" font-weight="normal" text-anchor="start" fill="#111" stroke="#111" stroke-width="0.12">450µm</text>
<line x1="309.80" y1="275.90" x2="322.20" y2="275.90" stroke="#8fb0de" stroke-width="0.6" />
<circle cx="316.00" cy="275.90" r="2.0" fill="#8fb0de"/>
<text transform="translate(328.30,279.20) rotate(0.03) scale(1,1.0)" font-size="9.35" font-weight="normal" text-anchor="start" fill="#111" stroke="#111" stroke-width="0.12">500µm</text>
<line x1="309.80" y1="291.60" x2="322.20" y2="291.60" stroke="#1454b0" stroke-width="0.6" />
<circle cx="316.00" cy="291.60" r="2.0" fill="#1454b0"/>
<text transform="translate(328.30,294.90) rotate(0.03) scale(1,1.0)" font-size="9.35" font-weight="normal" text-anchor="start" fill="#111" stroke="#111" stroke-width="0.12">550µm</text>
<line x1="309.80" y1="307.30" x2="322.20" y2="307.30" stroke="#0b2a5c" stroke-width="0.6" />
<circle cx="316.00" cy="307.30" r="2.0" fill="#0b2a5c"/>
<text transform="translate(328.30,310.60) rotate(0.03) scale(1,1.0)" font-size="9.35" font-weight="normal" text-anchor="start" fill="#111" stroke="#111" stroke-width="0.12">600µm</text>
<path d="M429.00,315.60 L431.38,310.82 L433.77,305.71 L438.54,297.64 L443.30,291.50 L457.61,275.01 L471.91,261.02 L486.22,250.79 L514.82,239.19 L543.43,231.80" fill="none" stroke="#0b2a5c" stroke-width="0.75"/>
<line x1="438.54" y1="295.93" x2="438.54" y2="299.34" stroke="#0b2a5c" stroke-width="0.7" />
<line x1="436.34" y1="295.93" x2="440.74" y2="295.93" stroke="#0b2a5c" stroke-width="0.7" />
<line x1="436.34" y1="299.34" x2="440.74" y2="299.34" stroke="#0b2a5c" stroke-width="0.7" />
<line x1="443.30" y1="289.79" x2="443.30" y2="293.20" stroke="#0b2a5c" stroke-width="0.7" />
<line x1="441.10" y1="289.79" x2="445.50" y2="289.79" stroke="#0b2a5c" stroke-width="0.7" />
<line x1="441.10" y1="293.20" x2="445.50" y2="293.20" stroke="#0b2a5c" stroke-width="0.7" />
<line x1="457.61" y1="272.17" x2="457.61" y2="277.85" stroke="#0b2a5c" stroke-width="0.7" />
<line x1="455.41" y1="272.17" x2="459.81" y2="272.17" stroke="#0b2a5c" stroke-width="0.7" />
<line x1="455.41" y1="277.85" x2="459.81" y2="277.85" stroke="#0b2a5c" stroke-width="0.7" />
<line x1="471.91" y1="256.48" x2="471.91" y2="265.57" stroke="#0b2a5c" stroke-width="0.7" />
<line x1="469.71" y1="256.48" x2="474.11" y2="256.48" stroke="#0b2a5c" stroke-width="0.7" />
<line x1="469.71" y1="265.57" x2="474.11" y2="265.57" stroke="#0b2a5c" stroke-width="0.7" />
<line x1="486.22" y1="245.67" x2="486.22" y2="255.91" stroke="#0b2a5c" stroke-width="0.7" />
<line x1="484.02" y1="245.67" x2="488.42" y2="245.67" stroke="#0b2a5c" stroke-width="0.7" />
<line x1="484.02" y1="255.91" x2="488.42" y2="255.91" stroke="#0b2a5c" stroke-width="0.7" />
<line x1="514.82" y1="234.65" x2="514.82" y2="243.74" stroke="#0b2a5c" stroke-width="0.7" />
<line x1="512.62" y1="234.65" x2="517.02" y2="234.65" stroke="#0b2a5c" stroke-width="0.7" />
<line x1="512.62" y1="243.74" x2="517.02" y2="243.74" stroke="#0b2a5c" stroke-width="0.7" />
<line x1="543.43" y1="226.12" x2="543.43" y2="237.49" stroke="#0b2a5c" stroke-width="0.7" />
<line x1="541.23" y1="226.12" x2="545.63" y2="226.12" stroke="#0b2a5c" stroke-width="0.7" />
<line x1="541.23" y1="237.49" x2="545.63" y2="237.49" stroke="#0b2a5c" stroke-width="0.7" />
<circle cx="429.00" cy="315.60" r="2.0" fill="#0b2a5c"/>
<circle cx="431.38" cy="310.82" r="2.0" fill="#0b2a5c"/>
<circle cx="433.77" cy="305.71" r="2.0" fill="#0b2a5c"/>
<circle cx="438.54" cy="297.64" r="2.0" fill="#0b2a5c"/>
<circle cx="443.30" cy="291.50" r="2.0" fill="#0b2a5c"/>
<circle cx="457.61" cy="275.01" r="2.0" fill="#0b2a5c"/>
<circle cx="471.91" cy="261.02" r="2.0" fill="#0b2a5c"/>
<circle cx="486.22" cy="250.79" r="2.0" fill="#0b2a5c"/>
<circle cx="514.82" cy="239.19" r="2.0" fill="#0b2a5c"/>
<circle cx="543.43" cy="231.80" r="2.0" fill="#0b2a5c"/>
<path d="M429.00,315.60 L431.38,309.92 L433.77,304.80 L438.54,296.27 L443.30,290.02 L457.61,272.39 L471.91,258.18 L486.22,247.15 L514.82,232.60 L543.43,224.64" fill="none" stroke="#1454b0" stroke-width="0.75"/>
<line x1="438.54" y1="294.57" x2="438.54" y2="297.98" stroke="#1454b0" stroke-width="0.7" />
<line x1="436.34" y1="294.57" x2="440.74" y2="294.57" stroke="#1454b0" stroke-width="0.7" />
<line x1="436.34" y1="297.98" x2="440.74" y2="297.98" stroke="#1454b0" stroke-width="0.7" />
<line x1="443.30" y1="288.31" x2="443.30" y2="291.72" stroke="#1454b0" stroke-width="0.7" />
<line x1="441.10" y1="288.31" x2="445.50" y2="288.31" stroke="#1454b0" stroke-width="0.7" />
<line x1="441.10" y1="291.72" x2="445.50" y2="291.72" stroke="#1454b0" stroke-width="0.7" />
<line x1="457.61" y1="269.55" x2="457.61" y2="275.24" stroke="#1454b0" stroke-width="0.7" />
<line x1="455.41" y1="269.55" x2="459.81" y2="269.55" stroke="#1454b0" stroke-width="0.7" />
<line x1="455.41" y1="275.24" x2="459.81" y2="275.24" stroke="#1454b0" stroke-width="0.7" />
<line x1="471.91" y1="255.34" x2="471.91" y2="261.02" stroke="#1454b0" stroke-width="0.7" />
<line x1="469.71" y1="255.34" x2="474.11" y2="255.34" stroke="#1454b0" stroke-width="0.7" />
<line x1="469.71" y1="261.02" x2="474.11" y2="261.02" stroke="#1454b0" stroke-width="0.7" />
<line x1="486.22" y1="244.88" x2="486.22" y2="249.43" stroke="#1454b0" stroke-width="0.7" />
<line x1="484.02" y1="244.88" x2="488.42" y2="244.88" stroke="#1454b0" stroke-width="0.7" />
<line x1="484.02" y1="249.43" x2="488.42" y2="249.43" stroke="#1454b0" stroke-width="0.7" />
<line x1="514.82" y1="229.76" x2="514.82" y2="235.44" stroke="#1454b0" stroke-width="0.7" />
<line x1="512.62" y1="229.76" x2="517.02" y2="229.76" stroke="#1454b0" stroke-width="0.7" />
<line x1="512.62" y1="235.44" x2="517.02" y2="235.44" stroke="#1454b0" stroke-width="0.7" />
<line x1="543.43" y1="221.80" x2="543.43" y2="227.48" stroke="#1454b0" stroke-width="0.7" />
<line x1="541.23" y1="221.80" x2="545.63" y2="221.80" stroke="#1454b0" stroke-width="0.7" />
<line x1="541.23" y1="227.48" x2="545.63" y2="227.48" stroke="#1454b0" stroke-width="0.7" />
<circle cx="429.00" cy="315.60" r="2.0" fill="#1454b0"/>
<circle cx="431.38" cy="309.92" r="2.0" fill="#1454b0"/>
<circle cx="433.77" cy="304.80" r="2.0" fill="#1454b0"/>
<circle cx="438.54" cy="296.27" r="2.0" fill="#1454b0"/>
<circle cx="443.30" cy="290.02" r="2.0" fill="#1454b0"/>
<circle cx="457.61" cy="272.39" r="2.0" fill="#1454b0"/>
<circle cx="471.91" cy="258.18" r="2.0" fill="#1454b0"/>
<circle cx="486.22" cy="247.15" r="2.0" fill="#1454b0"/>
<circle cx="514.82" cy="232.60" r="2.0" fill="#1454b0"/>
<circle cx="543.43" cy="224.64" r="2.0" fill="#1454b0"/>
<path d="M429.00,315.60 L431.38,308.55 L433.77,302.52 L438.54,295.13 L443.30,288.31 L457.61,270.69 L471.91,256.48 L486.22,245.33 L514.82,231.80 L543.43,224.19" fill="none" stroke="#8fb0de" stroke-width="0.75"/>
<line x1="438.54" y1="293.43" x2="438.54" y2="296.84" stroke="#8fb0de" stroke-width="0.7" />
<line x1="436.34" y1="293.43" x2="440.74" y2="293.43" stroke="#8fb0de" stroke-width="0.7" />
<line x1="436.34" y1="296.84" x2="440.74" y2="296.84" stroke="#8fb0de" stroke-width="0.7" />
<line x1="443.30" y1="286.61" x2="443.30" y2="290.02" stroke="#8fb0de" stroke-width="0.7" />
<line x1="441.10" y1="286.61" x2="445.50" y2="286.61" stroke="#8fb0de" stroke-width="0.7" />
<line x1="441.10" y1="290.02" x2="445.50" y2="290.02" stroke="#8fb0de" stroke-width="0.7" />
<line x1="457.61" y1="268.41" x2="457.61" y2="272.96" stroke="#8fb0de" stroke-width="0.7" />
<line x1="455.41" y1="268.41" x2="459.81" y2="268.41" stroke="#8fb0de" stroke-width="0.7" />
<line x1="455.41" y1="272.96" x2="459.81" y2="272.96" stroke="#8fb0de" stroke-width="0.7" />
<line x1="471.91" y1="254.20" x2="471.91" y2="258.75" stroke="#8fb0de" stroke-width="0.7" />
<line x1="469.71" y1="254.20" x2="474.11" y2="254.20" stroke="#8fb0de" stroke-width="0.7" />
<line x1="469.71" y1="258.75" x2="474.11" y2="258.75" stroke="#8fb0de" stroke-width="0.7" />
<line x1="486.22" y1="243.63" x2="486.22" y2="247.04" stroke="#8fb0de" stroke-width="0.7" />
<line x1="484.02" y1="243.63" x2="488.42" y2="243.63" stroke="#8fb0de" stroke-width="0.7" />
<line x1="484.02" y1="247.04" x2="488.42" y2="247.04" stroke="#8fb0de" stroke-width="0.7" />
<line x1="514.82" y1="230.10" x2="514.82" y2="233.51" stroke="#8fb0de" stroke-width="0.7" />
<line x1="512.62" y1="230.10" x2="517.02" y2="230.10" stroke="#8fb0de" stroke-width="0.7" />
<line x1="512.62" y1="233.51" x2="517.02" y2="233.51" stroke="#8fb0de" stroke-width="0.7" />
<line x1="543.43" y1="222.48" x2="543.43" y2="225.89" stroke="#8fb0de" stroke-width="0.7" />
<line x1="541.23" y1="222.48" x2="545.63" y2="222.48" stroke="#8fb0de" stroke-width="0.7" />
<line x1="541.23" y1="225.89" x2="545.63" y2="225.89" stroke="#8fb0de" stroke-width="0.7" />
<circle cx="429.00" cy="315.60" r="2.0" fill="#8fb0de"/>
<circle cx="431.38" cy="308.55" r="2.0" fill="#8fb0de"/>
<circle cx="433.77" cy="302.52" r="2.0" fill="#8fb0de"/>
<circle cx="438.54" cy="295.13" r="2.0" fill="#8fb0de"/>
<circle cx="443.30" cy="288.31" r="2.0" fill="#8fb0de"/>
<circle cx="457.61" cy="270.69" r="2.0" fill="#8fb0de"/>
<circle cx="471.91" cy="256.48" r="2.0" fill="#8fb0de"/>
<circle cx="486.22" cy="245.33" r="2.0" fill="#8fb0de"/>
<circle cx="514.82" cy="231.80" r="2.0" fill="#8fb0de"/>
<circle cx="543.43" cy="224.19" r="2.0" fill="#8fb0de"/>
<path d="M429.00,315.60 L431.38,307.64 L433.77,301.16 L438.54,294.00 L443.30,287.06 L457.61,268.53 L471.91,254.66 L486.22,243.74 L514.82,231.12 L543.43,223.50" fill="none" stroke="#c4d7f1" stroke-width="0.75"/>
<line x1="438.54" y1="292.29" x2="438.54" y2="295.70" stroke="#c4d7f1" stroke-width="0.7" />
<line x1="436.34" y1="292.29" x2="440.74" y2="292.29" stroke="#c4d7f1" stroke-width="0.7" />
<line x1="436.34" y1="295.70" x2="440.74" y2="295.70" stroke="#c4d7f1" stroke-width="0.7" />
<line x1="443.30" y1="285.36" x2="443.30" y2="288.77" stroke="#c4d7f1" stroke-width="0.7" />
<line x1="441.10" y1="285.36" x2="445.50" y2="285.36" stroke="#c4d7f1" stroke-width="0.7" />
<line x1="441.10" y1="288.77" x2="445.50" y2="288.77" stroke="#c4d7f1" stroke-width="0.7" />
<line x1="457.61" y1="266.25" x2="457.61" y2="270.80" stroke="#c4d7f1" stroke-width="0.7" />
<line x1="455.41" y1="266.25" x2="459.81" y2="266.25" stroke="#c4d7f1" stroke-width="0.7" />
<line x1="455.41" y1="270.80" x2="459.81" y2="270.80" stroke="#c4d7f1" stroke-width="0.7" />
<line x1="471.91" y1="252.38" x2="471.91" y2="256.93" stroke="#c4d7f1" stroke-width="0.7" />
<line x1="469.71" y1="252.38" x2="474.11" y2="252.38" stroke="#c4d7f1" stroke-width="0.7" />
<line x1="469.71" y1="256.93" x2="474.11" y2="256.93" stroke="#c4d7f1" stroke-width="0.7" />
<line x1="486.22" y1="242.04" x2="486.22" y2="245.45" stroke="#c4d7f1" stroke-width="0.7" />
<line x1="484.02" y1="242.04" x2="488.42" y2="242.04" stroke="#c4d7f1" stroke-width="0.7" />
<line x1="484.02" y1="245.45" x2="488.42" y2="245.45" stroke="#c4d7f1" stroke-width="0.7" />
<line x1="514.82" y1="229.42" x2="514.82" y2="232.83" stroke="#c4d7f1" stroke-width="0.7" />
<line x1="512.62" y1="229.42" x2="517.02" y2="229.42" stroke="#c4d7f1" stroke-width="0.7" />
<line x1="512.62" y1="232.83" x2="517.02" y2="232.83" stroke="#c4d7f1" stroke-width="0.7" />
<line x1="543.43" y1="221.80" x2="543.43" y2="225.21" stroke="#c4d7f1" stroke-width="0.7" />
<line x1="541.23" y1="221.80" x2="545.63" y2="221.80" stroke="#c4d7f1" stroke-width="0.7" />
<line x1="541.23" y1="225.21" x2="545.63" y2="225.21" stroke="#c4d7f1" stroke-width="0.7" />
<circle cx="429.00" cy="315.60" r="2.0" fill="#c4d7f1"/>
<circle cx="431.38" cy="307.64" r="2.0" fill="#c4d7f1"/>
<circle cx="433.77" cy="301.16" r="2.0" fill="#c4d7f1"/>
<circle cx="438.54" cy="294.00" r="2.0" fill="#c4d7f1"/>
<circle cx="443.30" cy="287.06" r="2.0" fill="#c4d7f1"/>
<circle cx="457.61" cy="268.53" r="2.0" fill="#c4d7f1"/>
<circle cx="471.91" cy="254.66" r="2.0" fill="#c4d7f1"/>
<circle cx="486.22" cy="243.74" r="2.0" fill="#c4d7f1"/>
<circle cx="514.82" cy="231.12" r="2.0" fill="#c4d7f1"/>
<circle cx="543.43" cy="223.50" r="2.0" fill="#c4d7f1"/>
<line x1="429.00" y1="316.20" x2="429.00" y2="201.30" stroke="#111" stroke-width="1.3" />
<line x1="424.30" y1="315.60" x2="429.00" y2="315.60" stroke="#111" stroke-width="1.3" />
<text transform="translate(422.40,318.52) rotate(0.03) scale(1,1.09)" font-size="8.4" font-weight="bold" text-anchor="end" fill="#111" >0</text>
<line x1="424.30" y1="292.86" x2="429.00" y2="292.86" stroke="#111" stroke-width="1.3" />
<text transform="translate(422.40,295.78) rotate(0.03) scale(1,1.09)" font-size="8.4" font-weight="bold" text-anchor="end" fill="#111" >20</text>
<line x1="424.30" y1="270.12" x2="429.00" y2="270.12" stroke="#111" stroke-width="1.3" />
<text transform="translate(422.40,273.04) rotate(0.03) scale(1,1.09)" font-size="8.4" font-weight="bold" text-anchor="end" fill="#111" >40</text>
<line x1="424.30" y1="247.38" x2="429.00" y2="247.38" stroke="#111" stroke-width="1.3" />
<text transform="translate(422.40,250.30) rotate(0.03) scale(1,1.09)" font-size="8.4" font-weight="bold" text-anchor="end" fill="#111" >60</text>
<line x1="424.30" y1="224.64" x2="429.00" y2="224.64" stroke="#111" stroke-width="1.3" />
<text transform="translate(422.40,227.56) rotate(0.03) scale(1,1.09)" font-size="8.4" font-weight="bold" text-anchor="end" fill="#111" >80</text>
<line x1="424.30" y1="201.90" x2="429.00" y2="201.90" stroke="#111" stroke-width="1.3" />
<text transform="translate(422.40,204.82) rotate(0.03) scale(1,1.09)" font-size="8.4" font-weight="bold" text-anchor="end" fill="#111" >100</text>
<line x1="428.40" y1="315.60" x2="544.03" y2="315.60" stroke="#111" stroke-width="1.3" />
<line x1="429.00" y1="315.60" x2="429.00" y2="320.30" stroke="#111" stroke-width="1.3" />
<text transform="translate(429.00,330.30) rotate(0.03) scale(1,1.08)" font-size="8.4" font-weight="bold" text-anchor="middle" fill="#111" >0</text>
<line x1="448.07" y1="315.60" x2="448.07" y2="320.30" stroke="#111" stroke-width="1.3" />
<text transform="translate(448.07,330.30) rotate(0.03) scale(1,1.08)" font-size="8.4" font-weight="bold" text-anchor="middle" fill="#111" >8</text>
<line x1="467.14" y1="315.60" x2="467.14" y2="320.30" stroke="#111" stroke-width="1.3" />
<text transform="translate(467.14,330.30) rotate(0.03) scale(1,1.08)" font-size="8.4" font-weight="bold" text-anchor="middle" fill="#111" >16</text>
<line x1="486.22" y1="315.60" x2="486.22" y2="320.30" stroke="#111" stroke-width="1.3" />
<text transform="translate(486.22,330.30) rotate(0.03) scale(1,1.08)" font-size="8.4" font-weight="bold" text-anchor="middle" fill="#111" >24</text>
<line x1="505.29" y1="315.60" x2="505.29" y2="320.30" stroke="#111" stroke-width="1.3" />
<text transform="translate(505.29,330.30) rotate(0.03) scale(1,1.08)" font-size="8.4" font-weight="bold" text-anchor="middle" fill="#111" >32</text>
<line x1="524.36" y1="315.60" x2="524.36" y2="320.30" stroke="#111" stroke-width="1.3" />
<text transform="translate(524.36,330.30) rotate(0.03) scale(1,1.08)" font-size="8.4" font-weight="bold" text-anchor="middle" fill="#111" >40</text>
<line x1="543.43" y1="315.60" x2="543.43" y2="320.30" stroke="#111" stroke-width="1.3" />
<text transform="translate(543.43,330.30) rotate(0.03) scale(1,1.08)" font-size="8.4" font-weight="bold" text-anchor="middle" fill="#111" >48</text>
<text transform="translate(486.22,343.50) rotate(0.03) scale(1,1.1)" font-size="9.2" font-weight="bold" text-anchor="middle" fill="#111" >Time&#160; (Hrs)</text>
<text transform="translate(401.80,259.20) rotate(-90) scale(1,1.08)" font-size="9.2" font-weight="bold" text-anchor="middle" fill="#111">% Pf&#160; Release</text>
<line x1="495.30" y1="260.20" x2="507.70" y2="260.20" stroke="#c4d7f1" stroke-width="0.6" />
<circle cx="501.50" cy="260.20" r="2.0" fill="#c4d7f1"/>
<text transform="translate(514.00,263.50) rotate(0.03) scale(1,1.0)" font-size="9.35" font-weight="normal" text-anchor="start" fill="#111" stroke="#111" stroke-width="0.12">450µm</text>
<line x1="495.30" y1="275.90" x2="507.70" y2="275.90" stroke="#8fb0de" stroke-width="0.6" />
<circle cx="501.50" cy="275.90" r="2.0" fill="#8fb0de"/>
<text transform="translate(514.00,279.20) rotate(0.03) scale(1,1.0)" font-size="9.35" font-weight="normal" text-anchor="start" fill="#111" stroke="#111" stroke-width="0.12">500µm</text>
<line x1="495.30" y1="291.60" x2="507.70" y2="291.60" stroke="#1454b0" stroke-width="0.6" />
<circle cx="501.50" cy="291.60" r="2.0" fill="#1454b0"/>
<text transform="translate(514.00,294.90) rotate(0.03) scale(1,1.0)" font-size="9.35" font-weight="normal" text-anchor="start" fill="#111" stroke="#111" stroke-width="0.12">550µm</text>
<line x1="495.30" y1="307.30" x2="507.70" y2="307.30" stroke="#0b2a5c" stroke-width="0.6" />
<circle cx="501.50" cy="307.30" r="2.0" fill="#0b2a5c"/>
<text transform="translate(514.00,310.60) rotate(0.03) scale(1,1.0)" font-size="9.35" font-weight="normal" text-anchor="start" fill="#111" stroke="#111" stroke-width="0.12">600µm</text>
</svg>
</body></html>
